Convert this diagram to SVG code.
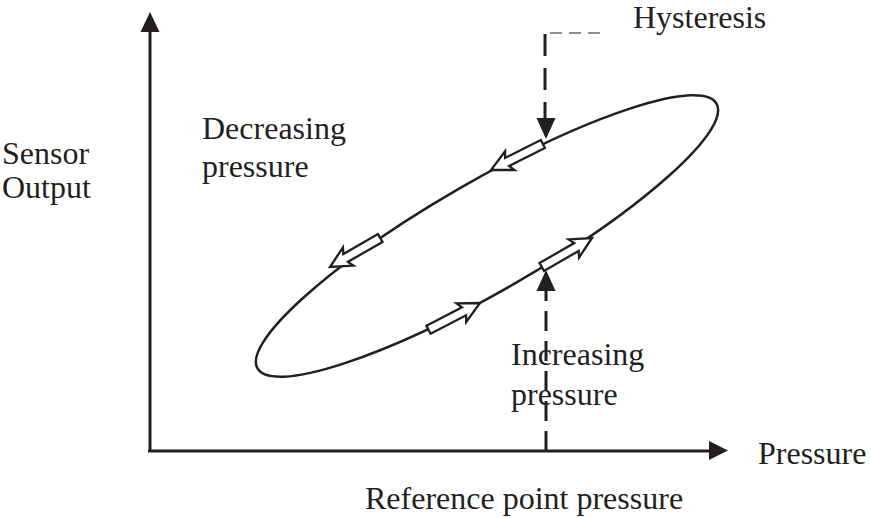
<svg xmlns="http://www.w3.org/2000/svg" width="871" height="518" viewBox="0 0 871 518">
  <style>
    .t { font-family: "Liberation Serif", "Times New Roman", serif; font-size: 32px; fill: #231f20; }
    .ax { stroke: #231f20; stroke-width: 3; fill: none; }
    .ah { fill: #231f20; stroke: none; }
    .loop { stroke: #231f20; stroke-width: 2.5; fill: none; }
    .dir { fill: #ffffff; stroke: #231f20; stroke-width: 2.3; stroke-linejoin: miter; }
    .dash { stroke: #231f20; stroke-width: 3; fill: none; stroke-dasharray: 20 10; }
    .thin { stroke: #231f20; stroke-width: 1.2; fill: none; stroke-dasharray: 12 7; }
  </style>
  <defs>
    <path id="ha" d="M-58,-4.5 L-18,-4.5 L-21,-10.5 L0,0 L-21,10.5 L-18,4.5 L-58,4.5 Z"/>
  </defs>
  <rect width="871" height="518" fill="#ffffff"/>

  <g id="axes">
    <line class="ax" x1="150" y1="452" x2="150" y2="28"/>
    <polygon class="ah" points="150,12 140.5,32 159.5,32"/>
    <line class="ax" x1="148" y1="451" x2="712" y2="451"/>
    <polygon class="ah" points="728,450.5 709,441 709,460"/>
  </g>

  <g id="loop">
    <ellipse class="loop" cx="487" cy="236" rx="265" ry="55" transform="rotate(-30 487 236)"/>
    <use href="#ha" class="dir" transform="translate(491,170) rotate(153.4)"/>
    <use href="#ha" class="dir" transform="translate(330,267) rotate(150)"/>
    <use href="#ha" class="dir" transform="translate(480,303) rotate(-27.4)"/>
    <use href="#ha" class="dir" transform="translate(592,238) rotate(-30)"/>
  </g>

  <g id="connectors">
    <line class="thin" x1="600" y1="33" x2="543" y2="33"/>
    <line class="dash" x1="545" y1="34" x2="545" y2="120" style="stroke-dasharray:22 12"/>
    <polygon class="ah" points="546,139 536.5,118 555.5,118"/>
    <line class="dash" x1="546" y1="451" x2="546" y2="290"/>
    <polygon class="ah" points="546,270 536.5,291 555.5,291"/>
  </g>

  <g id="label-hysteresis"><text class="t" x="633" y="28">Hysteresis</text></g>
  <g id="label-sensor"><text class="t" x="2" y="164">Sensor</text><text class="t" x="2" y="198">Output</text></g>
  <g id="label-decreasing"><text class="t" x="202" y="139">Decreasing</text><text class="t" x="202" y="177">pressure</text></g>
  <g id="label-increasing"><text class="t" x="511" y="365">Increasing</text><text class="t" x="511" y="405">pressure</text></g>
  <g id="label-pressure"><text class="t" x="758" y="464">Pressure</text></g>
  <g id="label-reference"><text class="t" x="365" y="509">Reference point pressure</text></g>
</svg>
